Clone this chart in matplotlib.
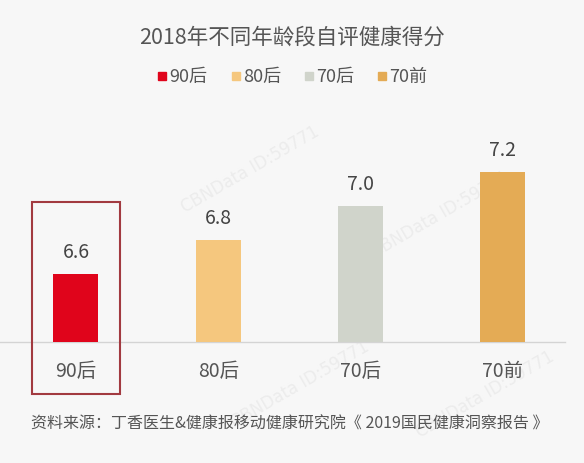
import matplotlib
matplotlib.use("Agg")
import matplotlib.pyplot as plt
from matplotlib.patches import Rectangle
from matplotlib.lines import Line2D

plt.rcParams['font.family'] = ['Noto Sans CJK SC', 'DejaVu Sans']

title = "2018年不同年龄段自评健康得分"
categories = ["90后", "80后", "70后", "70前"]
values = [6.6, 6.8, 7.0, 7.2]
colors = ["#e0041b", "#f5c77e", "#d0d4cb", "#e4ab55"]
source = "资料来源：丁香医生&健康报移动健康研究院《 2019国民健康洞察报告 》"
watermark = "CBNData ID:59771"

W, H = 584, 463
bg = "#f7f7f7"
fig = plt.figure(figsize=(W / 100, H / 100), dpi=100, facecolor=bg)

# axes geometry in pixels
ax_left, ax_right = 0, 565
base_y = 342
top_y = 100
ax = fig.add_axes([ax_left / W, (H - base_y) / H, (ax_right - ax_left) / W, (base_y - top_y) / H])
ax.set_facecolor("none")

px_per_cat = 142.3
x0_px = 76
ymin = 6.2
px_per_unit = 170
ax.set_xlim(-(x0_px - ax_left) / px_per_cat, (ax_right - x0_px) / px_per_cat)
ax.set_ylim(ymin, ymin + (base_y - top_y) / px_per_unit)

# faint watermarks (behind everything)
wm_pos = [(250, 170), (440, 215), (300, 385), (485, 395)]
for (px, py) in wm_pos:
    ax.text(px / W, 1 - py / H, watermark, transform=fig.transFigure, ha="center", va="center",
            fontsize=12, color="#ececec", rotation=30, zorder=0, clip_on=False,
            family="DejaVu Sans")

xs = list(range(len(categories)))
bw = 45 / px_per_cat
bars = ax.bar(xs, [v - ymin for v in values], bottom=ymin, width=bw, color=colors, zorder=3)

for x, v in zip(xs, values):
    ax.annotate(f"{v:.1f}", (x, v), xytext=(0, 21), textcoords="offset pixels",
                ha="center", va="center", fontsize=14, color="#444444")

for s in ["top", "right", "left"]:
    ax.spines[s].set_visible(False)
ax.spines["bottom"].set_color("#d4d4d4")
ax.spines["bottom"].set_linewidth(1.0)
ax.set_yticks([])
ax.set_xticks(xs)
ax.set_xticklabels(categories, fontsize=14, color="#555555")
ax.tick_params(axis="x", length=0, pad=14)

# highlight box around the first category
hx0 = xs[0] - 44 / px_per_cat
hx1 = xs[0] + 44 / px_per_cat
hy1 = values[0] + (274 - 202) / px_per_unit
hy0 = ymin - (394 - base_y) / px_per_unit
ax.add_patch(Rectangle((hx0, hy0), hx1 - hx0, hy1 - hy0, fill=False,
                       edgecolor="#a23a40", linewidth=1.5, clip_on=False, zorder=4))

# title
fig.text(292 / W, 1 - 38 / H, title, ha="center", va="center", fontsize=15.5, color="#555555")

# legend
handles = [Line2D([0], [0], marker="s", linestyle="none", markersize=6,
                  markerfacecolor=c, markeredgecolor=c) for c in colors]
fig.legend(handles, categories, loc="center", bbox_to_anchor=(293 / W, 1 - 77 / H),
           ncol=4, frameon=False, fontsize=13, handlelength=0.4, handletextpad=0.2,
           columnspacing=1.35, labelcolor="#555555")

# source
fig.text(290 / W, 1 - 424 / H, source, ha="center", va="center", fontsize=11.5, color="#555555")

fig.savefig("out.png", dpi=100, facecolor=bg)
